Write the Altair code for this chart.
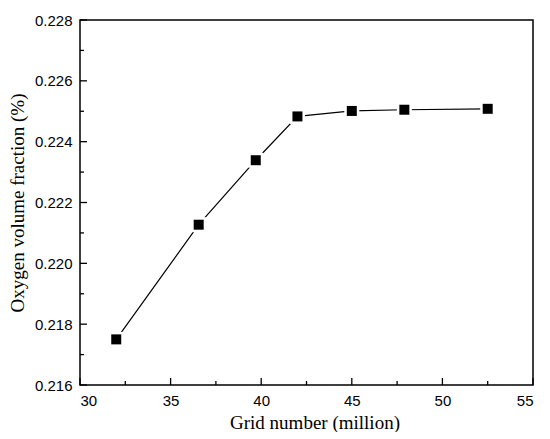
import altair as alt
import pandas as pd

grid = [32.0, 36.55, 39.7, 42.0, 45.0, 47.9, 52.5]
oxygen = [0.2175, 0.22127, 0.22339, 0.22483, 0.22501, 0.22505, 0.22508]

x_major = [30, 35, 40, 45, 50, 55]
x_minor = [32.5, 37.5, 42.5, 47.5, 52.5]
y_major = [0.216, 0.218, 0.220, 0.222, 0.224, 0.226, 0.228]
y_minor = [0.217, 0.219, 0.221, 0.223, 0.225, 0.227]

W, H = 453, 365

df = pd.DataFrame({"grid": grid, "oxygen": oxygen})

xs = alt.Scale(domain=[30, 55], nice=False, zero=False)
ys = alt.Scale(domain=[0.216, 0.228], nice=False, zero=False)

xaxis = alt.Axis(values=x_major, format="d", title="Grid number (million)",
                 ticks=False, domain=False, grid=False, labelPadding=8,
                 titlePadding=5, titleX=W / 2 + 8)
yaxis = alt.Axis(values=y_major, format=".3f", title="Oxygen volume fraction (%)",
                 ticks=False, domain=False, grid=False, labelPadding=8,
                 titlePadding=7)

base = alt.Chart(df)

line = base.mark_line(color="black", strokeWidth=1.2).encode(
    x=alt.X("grid:Q", scale=xs, axis=xaxis),
    y=alt.Y("oxygen:Q", scale=ys, axis=yaxis),
)
halo = base.mark_point(shape="square", filled=True, color="white", size=225, opacity=1).encode(
    x=alt.X("grid:Q", scale=xs), y=alt.Y("oxygen:Q", scale=ys)
)
pts = base.mark_point(shape="square", filled=True, color="black", size=100, opacity=1).encode(
    x=alt.X("grid:Q", scale=xs), y=alt.Y("oxygen:Q", scale=ys)
)

def xticks(vals, length):
    return alt.Chart(pd.DataFrame({"t": vals})).mark_rule(color="black", strokeWidth=1.3).encode(
        x=alt.X("t:Q", scale=xs), y=alt.value(H), y2=alt.value(H - length)
    )

def yticks(vals, length):
    return alt.Chart(pd.DataFrame({"t": vals})).mark_rule(color="black", strokeWidth=1.3).encode(
        y=alt.Y("t:Q", scale=ys), x=alt.value(0), x2=alt.value(length)
    )

chart = alt.layer(
    xticks(x_major, 7), xticks(x_minor, 4), yticks(y_major, 7), yticks(y_minor, 4),
    line, halo, pts
).properties(
    width=W, height=H, background="white",
    padding={"left": 0, "top": 5, "right": 2, "bottom": 0}
).configure_view(
    stroke="black", strokeWidth=1.5
).configure_axis(
    labelFont="Liberation Sans", labelFontSize=15, labelColor="black",
    titleFont="Liberation Serif", titleFontSize=19, titleFontWeight="normal",
    titleColor="black"
)

chart.save("out.html", embed_options={"renderer": "svg", "actions": False})
